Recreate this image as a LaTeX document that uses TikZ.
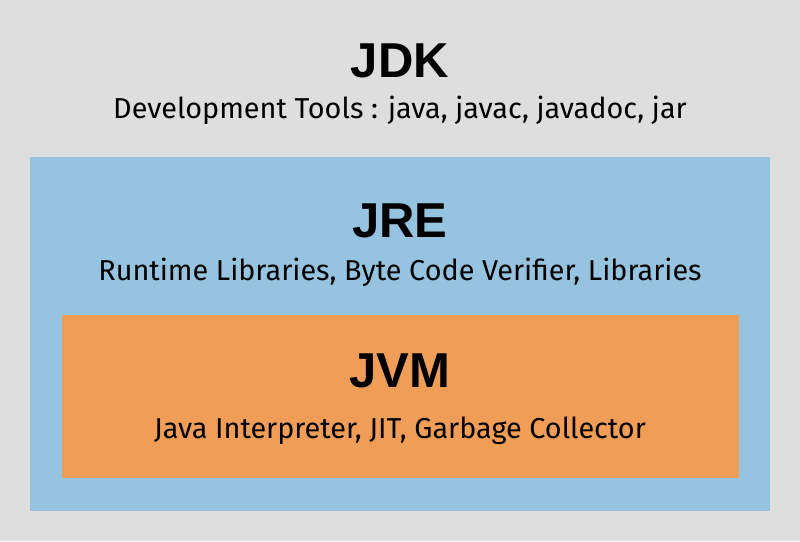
\documentclass[tikz,border=0pt]{standalone}
\usepackage{fontspec}
\setmainfont{Fira Sans}
\newfontfamily\headfont{Liberation Sans}
\usetikzlibrary{positioning}
\definecolor{bggray}{HTML}{DEDEDE}
\definecolor{jreblue}{HTML}{96C3E0}
\definecolor{jvmorange}{HTML}{F09D58}
\tikzset{
  title/.style={font=\headfont\fontsize{49}{49}\selectfont\bfseries, inner sep=0pt, anchor=base},
  sub/.style={font=\fontsize{28.8}{29}\selectfont, inner sep=0pt, anchor=base}
}
\begin{document}
\begin{tikzpicture}[x=1pt, y=-1pt]
  \fill[bggray] (0,0) rectangle (800,541);
  \useasboundingbox (0,0) rectangle (800,541);

  \node[fill=jreblue, minimum width=740pt, minimum height=354pt, inner sep=0pt, anchor=north west] (jre) at (30,157) {};
  \node[fill=jvmorange, minimum width=677pt, minimum height=163pt, inner sep=0pt, anchor=north west] (jvm) at (62,315) {};

  \node[title] (jdkt) at (400,77) {JDK};
  \node[sub] (jdks) at (400,118) {Development Tools : java, javac, javadoc, jar};

  \node[title] (jret) at (400,237) {JRE};
  \node[sub] (jres) at (400,280) {Runtime Libraries, Byte Code Verifier, Libraries};

  \node[title] (jvmt) at (400,387) {JVM};
  \node[sub] (jvms) at (400,438) {Java Interpreter, JIT, Garbage Collector};

\end{tikzpicture}
\end{document}
